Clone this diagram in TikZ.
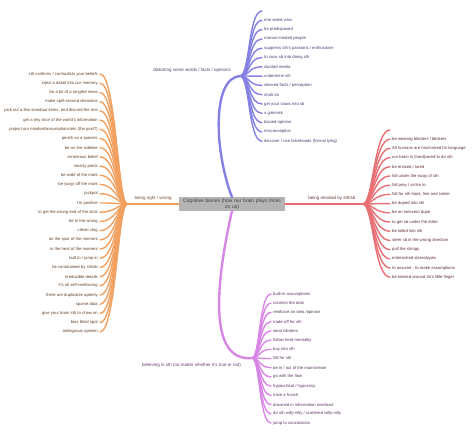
\documentclass[tikz,border=0pt]{standalone}
\usepackage{fontspec}
\setmainfont{Liberation Sans}
\usetikzlibrary{positioning}
\definecolor{distortcol}{HTML}{8580E4}
\definecolor{rightcol}{HTML}{F2A060}
\definecolor{misleadcol}{HTML}{E87074}
\definecolor{believecol}{HTML}{D886E6}
\definecolor{rootfill}{HTML}{B4B4B4}

\begin{document}
\begin{tikzpicture}[x = 1pt, y = -1pt, line cap = round]
        \tikzstyle{root} = [rectangle, fill = rootfill, text = black!75, align = center, text width = 102pt, inner xsep = 2pt, inner ysep = 1.5pt, font = \fontsize{5}{5.6}\selectfont]
        \tikzstyle{branchlabel} = [inner sep = 1pt, font = \fontsize{4.5}{5}\selectfont]
        \tikzstyle{leaf} = [inner xsep = 2pt, inner ysep = 0.5pt, font = \fontsize{4.2}{5}\selectfont]
        \tikzstyle{branch} = [line width = 2.4pt]
        \tikzstyle{twig} = [line width = 1.4pt]
        \useasboundingbox (0,0) rectangle (474,436);

        \node at (232,204) (root) [root] {Cognitive biases (how our brain plays tricks\\ on us)};
        \coordinate (distortj) at (240,76);
        \coordinate (rightwrongj) at (127,204);
        \coordinate (misleadj) at (363,204);
        \coordinate (believej) at (252,358);

        % main branches
        \draw [branch, distortcol] (root.north) .. controls +(-18,-47) and +(-28,2) .. (distortj);
        \draw [branch, rightcol] (root.west) -- (rightwrongj);
        \draw [branch, misleadcol] (root.east) -- (misleadj);
        \draw [branch, believecol] (root.south) .. controls +(-18,80) and +(-42,4) .. (believej);

        \node (distort) [branchlabel, text = distortcol!50!black, above left = 2pt and 8pt of distortj] {distorting some words / facts / opinions};
        \node (rightwrong) [branchlabel, text = rightcol!45!black, above left = 2pt and 6pt of root.west] {being right / wrong};
        \node (mislead) [branchlabel, text = misleadcol!45!black, above right = 2pt and 22pt of root.east] {being mislead by sth/sb};
        \node (believe) [branchlabel, text = believecol!45!black, below left = 4pt and 10pt of believej] {believing in sth (no matter whether it's true or not)};

        % distorting
        \coordinate (distort-0) at (262,11);
        \draw [twig, distortcol] (distortj) .. controls +(10,0) and +(-14,0) .. (distort-0);
        \foreach \t [count = \i] in {one sided view, be predisposed, narrow-minded people,
            suppress sth's passions / enthusiasm, to coax sb into doing sth, slanted media,
            undermine sth, skewed facts / perception, shaft sb, get your claws into sb,
            a gimmick, biased opinion, misconception, discover / use falsehoods (formal lying)} {
            \node (distort-\i) [leaf, anchor = west, text = distortcol!50!black] at (262, {11+9.3*\i}) {\t};
            \draw [twig, distortcol] (distortj) .. controls +(10,0) and +(-14,0) .. (distort-\i.west);
        }

        % being right / wrong
        \foreach \t [count = \i] in {sth confirms / contradicts your beliefs, inject a detail into our memory,
            be a bit of a tangled mess, make split-second decisions,
            {pick out a few standout items, and discard the rest},
            get a tiny slice of the world's information, project our mindset/assumptions/etc (the past?),
            perish as a species, be on the sideline, erroneous belief, smarty pants,
            be wide of the mark, be (way) off the mark, jackpot, I'm positive,
            to get the wrong end of the stick, be in the wrong, clever clog,
            on the spur of the moment, in the heat of the moment, butt in / jump in,
            be constrained by sth/sb, irreducible details, it's all self-reinforcing,
            there are duplicates aplenty, sparse data, give your brain sth to chew on,
            bias blind spot, ambiguous opinion} {
            \node (rightwrong-\i) [leaf, anchor = east, text = rightcol!40!black] at (100, {64.8+9.21*\i}) {\t};
            \draw [twig, rightcol] (rightwrongj) .. controls +(-9,0) and +(16,0) .. (rightwrong-\i.east);
        }

        % being mislead
        \coordinate (mislead-0) at (390,130);
        \draw [twig, misleadcol] (misleadj) .. controls +(10,0) and +(-16,0) .. (mislead-0);
        \foreach \t [count = \i] in {be wearing blinders / blinkers, All humans are hard-wired for language,
            our brain is (hard)wired to do sth, be enticed / lured, fall under the sway of sth,
            fall prey / victim to, {fall for sth hook, line and sinker}, be duped into sth,
            be an innocent dupe, to get sb under the ether, be lulled into sth,
            steer sb in the wrong direction, pull the strings, entrenched stereotypes,
            to assume - to make assumptions, be twisted around sb's little finger} {
            \node (mislead-\i) [leaf, anchor = west, text = misleadcol!40!black] at (390, {130+9.2*\i}) {\t};
            \draw [twig, misleadcol] (misleadj) .. controls +(10,0) and +(-16,0) .. (mislead-\i.west);
        }

        % believing
        \foreach \t [count = \i] in {built-in assumptions, connect the dots, reinforce an idea /opinion,
            trade-off for sth, wear blinders, follow herd mentality, buy into sth, fall for sth,
            be in / out of the mainstream, go with the flow, hypocritical / hypocrisy,
            have a hunch, drowned in information overload,
            do sth willy-nilly / scattered willy-nilly, jump to conclusions} {
            \node (believe-\i) [leaf, anchor = west, text = believecol!40!black] at (271, {284.8+9.21*\i}) {\t};
            \draw [twig, believecol] (believej) .. controls +(8,0) and +(-12,0) .. (believe-\i.west);
        }
    \end{tikzpicture}
\end{document}
